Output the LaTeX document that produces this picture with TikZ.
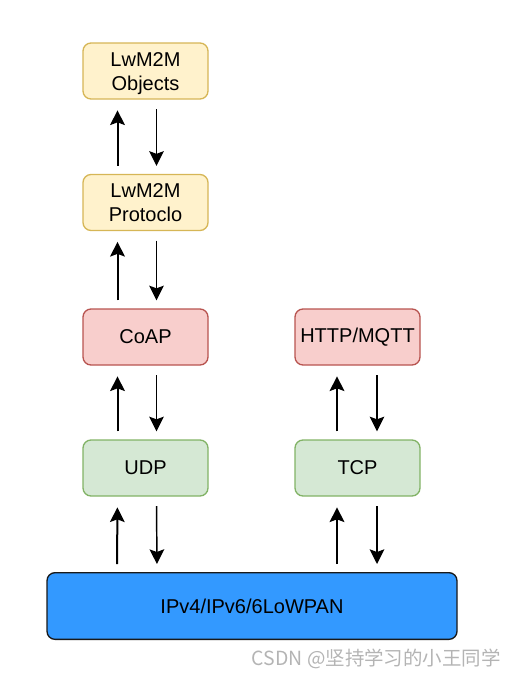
\documentclass[tikz,border=0pt]{standalone}
\usepackage{fontspec}
\setmainfont{Liberation Sans}
\newfontfamily\cjk{Noto Sans CJK SC}
\usetikzlibrary{arrows.meta,calc}
\definecolor{yfill}{HTML}{FFF2CC}\definecolor{ydraw}{HTML}{D6B656}
\definecolor{rfill}{HTML}{F8CECC}\definecolor{rdraw}{HTML}{B85450}
\definecolor{gfill}{HTML}{D5E8D4}\definecolor{gdraw}{HTML}{82B366}
\definecolor{bfill}{HTML}{3399FF}\definecolor{wm}{HTML}{B4B4B4}
\newcommand{\twoline}[2]{\raisebox{-5.5pt}[0pt][0pt]{\begin{tabular}[c]{@{}c@{}}#1\\[0.5pt]#2\end{tabular}}}
\begin{document}
\begin{tikzpicture}[x=0.75pt,y=-0.75pt,
  box/.style={rectangle,rounded corners=6pt,line width=1pt,minimum width=93.75pt,minimum height=42pt,
    align=center,font=\fontsize{15}{17.5}\selectfont,inner sep=0pt},
  ybox/.style={box,fill=yfill,draw=ydraw},
  rbox/.style={box,fill=rfill,draw=rdraw},
  gbox/.style={box,fill=gfill,draw=gdraw},
  uparr/.style={-{Stealth[length=11pt,width=11pt,inset=2pt]},line width=1.5pt,shorten <=6pt,shorten >=8pt},
  dnarr/.style={-{Stealth[length=11pt,width=11pt,inset=2pt]},line width=1.1pt,shorten <=7pt,shorten >=6pt}]
\useasboundingbox (0,0) rectangle (516,678);
\node[ybox] (obj) at (145.5,71) {\twoline{LwM2M}{Objects}};
\node[ybox] (proto) at (145.5,202.5) {\twoline{LwM2M}{Protoclo}};
\node[rbox] (coap) at (145.5,337) {CoAP};
\node[rbox] (http) at (357.5,337) {HTTP/MQTT};
\node[gbox] (udp) at (145.5,468) {UDP};
\node[gbox] (tcp) at (357.5,468) {TCP};
\node[box,fill=bfill,draw=black!90,minimum width=307.5pt,minimum height=50pt] (ip) at (252,606) {IPv4/IPv6/6LoWPAN};
\node[font=\cjk\fontsize{14.6}{16}\selectfont,text=wm,anchor=east,inner sep=0pt] (wmk) at (501,659) {CSDN @坚持学习的小王同学};
% arrows
\foreach \lo/\hi in {proto/obj,coap/proto,udp/coap}{
  \draw[uparr] ($(\lo.north)+(-28,0)$) -- ($(\hi.south)+(-28,0)$);
  \draw[dnarr] ($(\hi.south)+(11,0)$) -- ($(\lo.north)+(11,0)$);
}
\draw[uparr] ($(ip.north)+(-135,0)$) -- ($(udp.south)+(-28,0)$);
\draw[dnarr] ($(udp.south)+(11,0)$) -- ($(ip.north)+(-95,0)$);
\draw[uparr] ($(tcp.north)+(-20.5,0)$) -- ($(http.south)+(-20.5,0)$);
\draw[dnarr] ($(http.south)+(19.5,0)$) -- ($(tcp.north)+(19.5,0)$);
\draw[uparr] ($(ip.north)+(85,0)$) -- ($(tcp.south)+(-20.5,0)$);
\draw[dnarr] ($(tcp.south)+(19.5,0)$) -- ($(ip.north)+(125,0)$);
\end{tikzpicture}
\end{document}
